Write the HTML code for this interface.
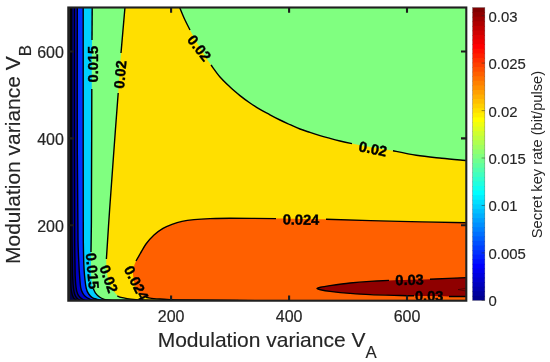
<!DOCTYPE html>
<html><head><meta charset="utf-8"><title>Secret key rate contour</title>
<style>html,body{margin:0;padding:0;background:#fff}body{width:550px;height:362px;overflow:hidden}</style></head>
<body>
<svg width="550" height="362" viewBox="0 0 550 362" style="display:block" font-family="Liberation Sans, Arial, Helvetica, sans-serif">
<rect width="550" height="362" fill="#fff"/>
<defs><clipPath id="ax"><rect x="68.3" y="7.5" width="398.0" height="293.2"/></clipPath></defs>
<g clip-path="url(#ax)">
<rect x="60" y="0" width="420" height="310" fill="#80ff80"/>
<path d="M125.0 7.0 C124.3 14.7 122.1 38.5 121.0 53.0 C119.9 67.5 119.4 77.6 118.2 94.0 C117.0 111.2 114.9 136.7 113.5 156.0 C112.1 175.3 110.8 192.8 109.6 210.0 C108.4 227.2 106.9 249.3 106.4 259.0 C106.2 262.6 106.3 264.7 106.6 268.0 C106.9 271.3 107.2 275.7 108.0 279.0 C108.8 282.3 110.0 285.3 111.5 288.0 C113.0 290.7 115.7 293.8 117.3 295.3 C118.5 296.5 119.4 296.8 121.0 297.3 C122.6 297.9 124.6 298.2 127.0 298.6 C129.5 299.0 132.4 299.3 136.0 299.6 C139.8 300.0 144.4 300.8 150.0 300.8 C205.2 301.1 414.2 301.4 467.0 301.5 L467 160.5 L467.0 160.5 C462.8 160.1 450.2 159.2 441.8 158.3 C433.4 157.4 424.4 156.6 416.3 155.3 C408.2 154.0 400.2 152.0 393.0 150.7 C385.8 149.4 379.8 148.8 373.0 147.6 C366.2 146.4 357.5 144.7 352.0 143.6 C347.2 142.6 343.7 141.9 340.0 141.0 C336.3 140.1 333.3 139.3 330.0 138.4 C326.7 137.5 323.3 136.6 320.0 135.6 C316.7 134.6 313.3 133.5 310.0 132.4 C306.7 131.3 303.3 130.3 300.0 129.0 C296.7 127.7 293.3 126.1 290.0 124.6 C286.7 123.1 283.3 121.6 280.0 120.0 C276.7 118.4 273.3 116.6 270.0 114.8 C266.7 113.0 263.3 111.4 260.0 109.4 C256.7 107.4 253.3 105.3 250.0 103.0 C246.7 100.7 243.3 98.3 240.0 95.6 C236.7 92.9 233.3 90.1 230.0 87.0 C226.7 83.9 223.2 80.7 220.0 77.0 C216.8 73.3 214.4 70.0 211.0 65.0 C207.6 60.0 203.0 52.8 199.5 47.0 C196.0 41.2 192.4 34.5 190.0 30.0 C187.9 26.1 186.8 23.8 185.0 20.0 C183.2 16.2 180.4 9.2 179.5 7.0 Z" fill="#ffdf00"/>
<path d="M467.0 222.8 C455.8 222.6 423.5 222.0 400.0 221.4 C376.5 220.8 342.5 219.6 326.0 219.2 C316.0 218.9 309.3 219.0 301.0 218.9 C292.7 218.8 286.0 218.7 276.0 218.6 C264.2 218.5 241.0 218.2 230.0 218.2 C222.0 218.2 216.0 218.4 210.0 218.6 C204.0 218.8 198.7 219.1 194.0 219.6 C189.3 220.1 185.7 220.6 182.0 221.4 C178.3 222.2 175.2 223.2 172.0 224.4 C168.8 225.6 166.0 226.6 163.0 228.4 C160.0 230.2 156.8 232.4 154.0 235.0 C151.2 237.6 148.3 240.8 146.0 244.0 C143.7 247.2 141.7 251.2 140.0 254.0 C138.4 256.8 137.1 258.7 136.0 261.0 C134.9 263.3 134.0 265.8 133.5 268.0 C133.0 270.2 132.8 271.6 133.0 274.0 C133.2 276.7 133.7 281.0 134.5 284.0 C135.3 287.0 136.6 290.0 138.0 292.0 C139.4 294.0 141.0 295.0 143.0 296.0 C145.0 297.0 147.2 297.6 150.0 298.1 C152.8 298.6 156.0 298.7 160.0 299.0 C164.2 299.3 169.0 299.9 175.0 300.0 C198.3 300.3 251.3 300.8 300.0 301.0 C348.7 301.2 439.2 301.2 467.0 301.2 Z" fill="#ff6000"/>
<path d="M467.0 277.6 C460.8 277.9 439.6 278.8 430.0 279.2 C421.8 279.5 416.4 279.6 409.6 279.8 C402.8 280.0 395.6 280.1 389.0 280.4 C382.4 280.7 376.5 281.0 370.0 281.4 C363.5 281.8 356.7 282.3 350.0 283.0 C343.3 283.7 334.9 284.9 330.0 285.6 C326.2 286.2 322.7 286.8 320.5 287.3 C319.1 287.6 317.0 288.1 317.0 288.5 C317.0 288.9 319.1 289.4 320.5 289.7 C322.7 290.2 326.2 290.9 330.0 291.4 C334.9 292.0 343.3 292.9 350.0 293.4 C356.7 293.9 362.0 294.3 370.0 294.6 C378.3 295.0 390.2 295.2 400.0 295.5 C409.8 295.8 420.8 295.9 429.0 296.1 C437.0 296.3 442.7 296.4 449.0 296.5 C455.3 296.6 464.0 296.5 467.0 296.5 Z" fill="#8f0000"/>
<path d="M60 0 L92.2 7.0 C92.2 12.5 92.1 26.8 92.0 40.0 C91.9 53.2 91.9 67.6 91.8 86.0 C91.7 106.0 91.7 137.3 91.6 160.0 C91.5 182.7 91.5 206.7 91.4 222.0 C91.3 234.0 91.1 244.0 91.0 252.0 C90.9 259.2 90.9 265.3 91.0 270.0 C91.1 274.0 91.1 276.9 91.5 280.0 C91.9 283.1 92.6 286.5 93.3 288.7 C93.9 290.6 94.5 291.8 95.5 293.1 C96.5 294.4 97.6 295.7 99.1 296.7 C100.5 297.7 102.0 298.6 104.2 299.3 C106.4 300.0 108.8 300.6 112.0 300.6 C172.5 300.9 407.8 300.9 467.0 301.0 L467 310 L60 310 Z" fill="#00cfff"/>
<path d="M60 0 L83.2 7.0 C83.2 30.8 83.2 111.2 83.2 150.0 C83.2 186.0 83.2 221.0 83.3 240.0 C83.4 249.6 83.6 258.0 83.8 264.0 C84.0 268.8 84.2 271.9 84.6 276.0 C85.0 280.1 85.6 285.5 86.3 288.5 C86.8 290.8 87.7 292.5 88.7 294.0 C89.7 295.5 90.8 296.7 92.2 297.6 C93.6 298.5 95.2 298.8 97.0 299.3 C98.8 299.8 100.6 300.4 103.0 300.4 C164.7 300.7 406.3 300.9 467.0 301.0 L467 310 L60 310 Z" fill="#0030ff"/>
<path d="M60 0 L77.3 7.0 C77.3 30.8 77.2 111.2 77.3 150.0 C77.5 186.0 77.7 221.0 78.0 240.0 C78.1 249.6 78.6 258.0 78.9 264.0 C79.1 268.8 79.3 272.1 79.6 276.0 C79.9 279.9 80.2 284.8 80.7 287.6 C81.1 289.9 81.9 291.6 82.7 293.1 C83.5 294.6 84.3 295.5 85.4 296.5 C86.5 297.5 88.0 298.3 89.3 298.9 C90.6 299.5 91.4 300.2 93.0 300.2 C155.9 300.6 404.7 300.9 467.0 301.0 L467 310 L60 310 Z" fill="#0000c4"/>
<path d="M60 0 L74.5 7.0 C74.5 30.8 74.4 111.2 74.5 150.0 C74.5 186.0 74.6 221.0 74.7 240.0 C74.7 249.6 74.9 258.0 75.0 264.0 C75.1 268.8 75.0 272.1 75.2 276.0 C75.4 279.9 75.7 284.6 76.1 287.6 C76.4 290.1 76.9 292.2 77.6 293.8 C78.2 295.4 79.2 296.4 80.0 297.3 C80.8 298.2 81.7 298.8 82.7 299.3 C83.7 299.8 84.6 300.5 86.0 300.5 C150.1 300.8 403.5 300.9 467.0 301.0 L467 310 L60 310 Z" fill="#00008f"/>
<path d="M60 0 L71.7 7.0 C71.7 30.8 71.7 111.2 71.7 150.0 C71.7 186.0 71.9 221.0 72.0 240.0 C72.1 249.6 72.3 258.0 72.4 264.0 C72.5 268.8 72.4 272.1 72.6 276.0 C72.8 279.9 73.1 284.6 73.4 287.6 C73.7 290.1 74.0 292.1 74.5 293.8 C75.0 295.5 75.8 296.8 76.5 297.7 C77.1 298.5 77.7 298.8 78.4 299.3 C79.2 299.8 79.9 300.5 81.0 300.5 C145.8 300.8 402.7 300.9 467.0 301.0 L467 310 L60 310 Z" fill="#000078"/>
<path d="M60 0 L70.6 7.0 C70.6 45.8 70.6 197.2 70.6 240.0 C70.6 249.6 70.7 258.0 70.7 264.0 C70.7 268.8 70.8 272.1 70.8 276.0 C70.8 279.9 70.8 284.5 71.0 287.6 C71.2 290.4 71.7 292.9 72.2 294.6 C72.6 296.1 73.3 297.3 73.8 298.1 C74.2 298.7 74.6 298.9 75.3 299.3 C76.0 299.7 76.8 300.6 78.0 300.6 C143.3 300.9 402.2 300.9 467.0 301.0 L467 310 L60 310 Z" fill="#000048"/>
<g fill="none" stroke="#000" stroke-width="1.4" stroke-linejoin="round">
<path d="M70.6 7.0 C70.6 45.8 70.6 197.2 70.6 240.0 C70.6 249.6 70.7 258.0 70.7 264.0 C70.7 268.8 70.8 272.1 70.8 276.0 C70.8 279.9 70.8 284.5 71.0 287.6 C71.2 290.4 71.7 292.9 72.2 294.6 C72.6 296.1 73.3 297.3 73.8 298.1 C74.2 298.7 74.6 298.9 75.3 299.3 C76.0 299.7 76.8 300.6 78.0 300.6 C143.3 300.9 402.2 300.9 467.0 301.0"/>
<path d="M71.7 7.0 C71.7 30.8 71.7 111.2 71.7 150.0 C71.7 186.0 71.9 221.0 72.0 240.0 C72.1 249.6 72.3 258.0 72.4 264.0 C72.5 268.8 72.4 272.1 72.6 276.0 C72.8 279.9 73.1 284.6 73.4 287.6 C73.7 290.1 74.0 292.1 74.5 293.8 C75.0 295.5 75.8 296.8 76.5 297.7 C77.1 298.5 77.7 298.8 78.4 299.3 C79.2 299.8 79.9 300.5 81.0 300.5 C145.8 300.8 402.7 300.9 467.0 301.0"/>
<path d="M74.5 7.0 C74.5 30.8 74.4 111.2 74.5 150.0 C74.5 186.0 74.6 221.0 74.7 240.0 C74.7 249.6 74.9 258.0 75.0 264.0 C75.1 268.8 75.0 272.1 75.2 276.0 C75.4 279.9 75.7 284.6 76.1 287.6 C76.4 290.1 76.9 292.2 77.6 293.8 C78.2 295.4 79.2 296.4 80.0 297.3 C80.8 298.2 81.7 298.8 82.7 299.3 C83.7 299.8 84.6 300.5 86.0 300.5 C150.1 300.8 403.5 300.9 467.0 301.0"/>
<path d="M77.3 7.0 C77.3 30.8 77.2 111.2 77.3 150.0 C77.5 186.0 77.7 221.0 78.0 240.0 C78.1 249.6 78.6 258.0 78.9 264.0 C79.1 268.8 79.3 272.1 79.6 276.0 C79.9 279.9 80.2 284.8 80.7 287.6 C81.1 289.9 81.9 291.6 82.7 293.1 C83.5 294.6 84.3 295.5 85.4 296.5 C86.5 297.5 88.0 298.3 89.3 298.9 C90.6 299.5 91.4 300.2 93.0 300.2 C155.9 300.6 404.7 300.9 467.0 301.0"/>
<path d="M83.2 7.0 C83.2 30.8 83.2 111.2 83.2 150.0 C83.2 186.0 83.2 221.0 83.3 240.0 C83.4 249.6 83.6 258.0 83.8 264.0 C84.0 268.8 84.2 271.9 84.6 276.0 C85.0 280.1 85.6 285.5 86.3 288.5 C86.8 290.8 87.7 292.5 88.7 294.0 C89.7 295.5 90.8 296.7 92.2 297.6 C93.6 298.5 95.2 298.8 97.0 299.3 C98.8 299.8 100.6 300.4 103.0 300.4 C164.7 300.7 406.3 300.9 467.0 301.0"/>
<path d="M92.2 7.0 C92.2 12.5 92.0 34.5 92.0 40.0"/>
<path d="M91.8 89.0 C91.8 100.8 91.7 137.8 91.6 160.0 C91.5 182.2 91.5 206.7 91.4 222.0 C91.3 234.0 91.1 247.0 91.0 252.0"/>
<path d="M93.3 288.7 C93.7 289.4 94.5 291.8 95.5 293.1 C96.5 294.4 97.6 295.7 99.1 296.7 C100.5 297.7 102.0 298.6 104.2 299.3 C106.4 300.0 110.7 300.4 112.0 300.6"/>
<path d="M125.0 7.0 C124.3 14.7 121.7 45.3 121.0 53.0"/>
<path d="M118.2 93.0 C117.4 103.5 114.9 136.5 113.5 156.0 C112.1 175.5 110.8 192.8 109.6 210.0 C108.4 227.2 106.9 250.8 106.4 259.0"/>
<path d="M117.3 296.0 C117.9 296.2 119.5 297.0 121.0 297.4 C122.6 297.8 124.6 298.2 127.0 298.6 C129.5 299.0 132.4 299.3 136.0 299.6 C139.8 300.0 147.7 300.6 150.0 300.8"/>
<path d="M179.5 7.0 C180.4 9.2 183.2 16.2 185.0 20.0 C186.8 23.8 189.2 28.3 190.0 30.0"/>
<path d="M211.0 65.0 C212.5 67.0 216.8 73.3 220.0 77.0 C223.2 80.7 226.7 83.9 230.0 87.0 C233.3 90.1 236.7 92.9 240.0 95.6 C243.3 98.3 246.7 100.7 250.0 103.0 C253.3 105.3 256.7 107.4 260.0 109.4 C263.3 111.4 266.7 113.0 270.0 114.8 C273.3 116.6 276.7 118.4 280.0 120.0 C283.3 121.6 286.7 123.1 290.0 124.6 C293.3 126.1 296.7 127.7 300.0 129.0 C303.3 130.3 306.7 131.3 310.0 132.4 C313.3 133.5 316.7 134.6 320.0 135.6 C323.3 136.6 326.7 137.5 330.0 138.4 C333.3 139.3 336.3 140.1 340.0 141.0 C343.7 141.9 350.0 143.2 352.0 143.6"/>
<path d="M393.0 150.7 C396.9 151.5 408.2 154.0 416.3 155.3 C424.4 156.6 433.4 157.4 441.8 158.3 C450.2 159.2 462.8 160.1 467.0 160.5"/>
<path d="M467.0 222.8 C455.8 222.6 423.5 222.0 400.0 221.4 C376.5 220.8 338.3 219.6 326.0 219.2"/>
<path d="M276.0 218.6 C268.3 218.5 241.0 218.2 230.0 218.2 C222.0 218.2 216.0 218.4 210.0 218.6 C204.0 218.8 198.7 219.1 194.0 219.6 C189.3 220.1 185.7 220.6 182.0 221.4 C178.3 222.2 175.2 223.2 172.0 224.4 C168.8 225.6 166.0 226.6 163.0 228.4 C160.0 230.2 156.8 232.4 154.0 235.0 C151.2 237.6 148.3 240.8 146.0 244.0 C143.7 247.2 141.7 251.2 140.0 254.0 C138.4 256.8 136.7 259.8 136.0 261.0"/>
<path d="M146.0 297.2 C146.7 297.4 148.4 297.9 150.0 298.1 C152.3 298.4 156.0 298.7 160.0 299.0 C164.2 299.3 169.0 299.9 175.0 300.0 C198.3 300.3 279.2 300.8 300.0 301.0"/>
<path d="M467.0 277.6 C460.8 277.9 436.2 278.9 430.0 279.2"/>
<path d="M389.0 280.4 C385.8 280.6 376.5 281.0 370.0 281.4 C363.5 281.8 356.7 282.3 350.0 283.0 C343.3 283.7 334.9 284.9 330.0 285.6 C326.2 286.2 322.7 286.8 320.5 287.3 C319.1 287.6 317.0 288.1 317.0 288.5 C317.0 288.9 319.1 289.4 320.5 289.7 C322.7 290.2 326.2 290.9 330.0 291.4 C334.9 292.0 343.3 292.9 350.0 293.4 C356.7 293.9 362.0 294.3 370.0 294.6 C378.3 295.0 392.7 295.3 400.0 295.5 C405.6 295.7 411.7 295.8 414.0 295.8"/>
<path d="M449.0 296.5 C452.0 296.5 464.0 296.5 467.0 296.5"/>
<path d="M467 288 L458 289.6 L467 291.2" stroke-width="0.6" stroke-opacity="0.6"/>
</g>
<g font-weight="bold" font-size="14.6px" text-anchor="middle" fill="#000" stroke="#000" stroke-width="0.4">
<text transform="translate(92.9 64.2) rotate(-90.0)" x="0" y="5.25">0.015</text>
<text transform="translate(120.0 74.5) rotate(-85.0)" x="0" y="5.25">0.02</text>
<text transform="translate(92.6 271.0) rotate(85.0)" x="0" y="5.25">0.015</text>
<text transform="translate(108.9 278.9) rotate(71.0)" x="0" y="5.25">0.02</text>
<text transform="translate(136.5 283.0) rotate(63.0)" x="0" y="5.25">0.024</text>
<text transform="translate(199.5 48.0) rotate(52.0)" x="0" y="5.25">0.02</text>
<text transform="translate(373.0 148.7) rotate(12.0)" x="0" y="5.25">0.02</text>
<text transform="translate(301.0 219.4) rotate(1.0)" x="0" y="5.25">0.024</text>
<text transform="translate(409.6 279.6) rotate(-2.0)" x="0" y="5.25">0.03</text>
<text transform="translate(429.2 296.0) rotate(0.0)" x="0" y="5.25">0.03</text>
</g>
</g>
<rect x="68.3" y="7.5" width="398.0" height="293.2" fill="none" stroke="#202020" stroke-width="2.1"/>
<path d="M69.5 7.5 V300.7" stroke="#202020" stroke-width="1.1"/>
<g stroke="#1c1c1c" stroke-width="2.1">
<path d="M171.1 300.7 v-5.3 M171.1 7.5 v5.3"/>
<path d="M289.1 300.7 v-5.3 M289.1 7.5 v5.3"/>
<path d="M407.0 300.7 v-5.3 M407.0 7.5 v5.3"/>
<path d="M68.3 51.5 h5.3 M466.3 51.5 h-5.3"/>
<path d="M68.3 138.4 h5.3 M466.3 138.4 h-5.3"/>
<path d="M68.3 225.3 h5.3 M466.3 225.3 h-5.3"/>
</g>
<g font-size="16px" fill="#262626" stroke="#262626" stroke-width="0.2">
<text x="171.1" y="322.1" text-anchor="middle">200</text>
<text x="289.1" y="322.1" text-anchor="middle">400</text>
<text x="407.0" y="322.1" text-anchor="middle">600</text>
<text x="63.9" y="57.9" text-anchor="end">600</text>
<text x="63.9" y="144.8" text-anchor="end">400</text>
<text x="63.9" y="231.7" text-anchor="end">200</text>
</g>
<text x="157.7" y="347.1" font-size="21px" fill="#262626" stroke="#262626" stroke-width="0.15">Modulation variance V<tspan font-size="16.8px" dy="10.5">A</tspan></text>
<text transform="translate(20.4 264.0) rotate(-90)" font-size="21px" fill="#262626" stroke="#262626" stroke-width="0.15">Modulation variance V<tspan font-size="16.8px" dy="10.5">B</tspan></text>
<rect x="472.6" y="7.60" width="12.2" height="5.37" fill="#800000"/>
<rect x="472.6" y="12.18" width="12.2" height="5.37" fill="#8f0000"/>
<rect x="472.6" y="16.75" width="12.2" height="5.37" fill="#9f0000"/>
<rect x="472.6" y="21.33" width="12.2" height="5.37" fill="#af0000"/>
<rect x="472.6" y="25.90" width="12.2" height="5.37" fill="#bf0000"/>
<rect x="472.6" y="30.48" width="12.2" height="5.37" fill="#cf0000"/>
<rect x="472.6" y="35.05" width="12.2" height="5.37" fill="#df0000"/>
<rect x="472.6" y="39.62" width="12.2" height="5.37" fill="#ef0000"/>
<rect x="472.6" y="44.20" width="12.2" height="5.37" fill="#ff0000"/>
<rect x="472.6" y="48.78" width="12.2" height="5.37" fill="#ff1000"/>
<rect x="472.6" y="53.35" width="12.2" height="5.37" fill="#ff2000"/>
<rect x="472.6" y="57.93" width="12.2" height="5.37" fill="#ff3000"/>
<rect x="472.6" y="62.50" width="12.2" height="5.37" fill="#ff4000"/>
<rect x="472.6" y="67.08" width="12.2" height="5.37" fill="#ff5000"/>
<rect x="472.6" y="71.65" width="12.2" height="5.37" fill="#ff6000"/>
<rect x="472.6" y="76.23" width="12.2" height="5.37" fill="#ff7000"/>
<rect x="472.6" y="80.80" width="12.2" height="5.37" fill="#ff8000"/>
<rect x="472.6" y="85.38" width="12.2" height="5.37" fill="#ff8f00"/>
<rect x="472.6" y="89.95" width="12.2" height="5.37" fill="#ff9f00"/>
<rect x="472.6" y="94.53" width="12.2" height="5.37" fill="#ffaf00"/>
<rect x="472.6" y="99.10" width="12.2" height="5.37" fill="#ffbf00"/>
<rect x="472.6" y="103.68" width="12.2" height="5.37" fill="#ffcf00"/>
<rect x="472.6" y="108.25" width="12.2" height="5.37" fill="#ffdf00"/>
<rect x="472.6" y="112.83" width="12.2" height="5.37" fill="#ffef00"/>
<rect x="472.6" y="117.40" width="12.2" height="5.37" fill="#ffff00"/>
<rect x="472.6" y="121.97" width="12.2" height="5.37" fill="#efff10"/>
<rect x="472.6" y="126.55" width="12.2" height="5.37" fill="#dfff20"/>
<rect x="472.6" y="131.12" width="12.2" height="5.37" fill="#cfff30"/>
<rect x="472.6" y="135.70" width="12.2" height="5.37" fill="#bfff40"/>
<rect x="472.6" y="140.28" width="12.2" height="5.37" fill="#afff50"/>
<rect x="472.6" y="144.85" width="12.2" height="5.37" fill="#9fff60"/>
<rect x="472.6" y="149.43" width="12.2" height="5.37" fill="#8fff70"/>
<rect x="472.6" y="154.00" width="12.2" height="5.37" fill="#80ff80"/>
<rect x="472.6" y="158.57" width="12.2" height="5.37" fill="#70ff8f"/>
<rect x="472.6" y="163.15" width="12.2" height="5.37" fill="#60ff9f"/>
<rect x="472.6" y="167.72" width="12.2" height="5.37" fill="#50ffaf"/>
<rect x="472.6" y="172.30" width="12.2" height="5.37" fill="#40ffbf"/>
<rect x="472.6" y="176.88" width="12.2" height="5.37" fill="#30ffcf"/>
<rect x="472.6" y="181.45" width="12.2" height="5.37" fill="#20ffdf"/>
<rect x="472.6" y="186.02" width="12.2" height="5.37" fill="#10ffef"/>
<rect x="472.6" y="190.60" width="12.2" height="5.37" fill="#00ffff"/>
<rect x="472.6" y="195.18" width="12.2" height="5.37" fill="#00efff"/>
<rect x="472.6" y="199.75" width="12.2" height="5.37" fill="#00dfff"/>
<rect x="472.6" y="204.32" width="12.2" height="5.37" fill="#00cfff"/>
<rect x="472.6" y="208.90" width="12.2" height="5.37" fill="#00bfff"/>
<rect x="472.6" y="213.47" width="12.2" height="5.37" fill="#00afff"/>
<rect x="472.6" y="218.05" width="12.2" height="5.37" fill="#009fff"/>
<rect x="472.6" y="222.62" width="12.2" height="5.37" fill="#008fff"/>
<rect x="472.6" y="227.20" width="12.2" height="5.37" fill="#0080ff"/>
<rect x="472.6" y="231.77" width="12.2" height="5.37" fill="#0070ff"/>
<rect x="472.6" y="236.35" width="12.2" height="5.37" fill="#0060ff"/>
<rect x="472.6" y="240.92" width="12.2" height="5.37" fill="#0050ff"/>
<rect x="472.6" y="245.50" width="12.2" height="5.37" fill="#0040ff"/>
<rect x="472.6" y="250.07" width="12.2" height="5.37" fill="#0030ff"/>
<rect x="472.6" y="254.65" width="12.2" height="5.37" fill="#0020ff"/>
<rect x="472.6" y="259.22" width="12.2" height="5.37" fill="#0010ff"/>
<rect x="472.6" y="263.80" width="12.2" height="5.37" fill="#0000ff"/>
<rect x="472.6" y="268.38" width="12.2" height="5.37" fill="#0000ef"/>
<rect x="472.6" y="272.95" width="12.2" height="5.37" fill="#0000df"/>
<rect x="472.6" y="277.52" width="12.2" height="5.37" fill="#0000cf"/>
<rect x="472.6" y="282.10" width="12.2" height="5.37" fill="#0000bf"/>
<rect x="472.6" y="286.67" width="12.2" height="5.37" fill="#0000af"/>
<rect x="472.6" y="291.25" width="12.2" height="5.37" fill="#00009f"/>
<rect x="472.6" y="295.82" width="12.2" height="4.57" fill="#00008f"/>
<rect x="472.6" y="7.6" width="12.2" height="292.8" fill="none" stroke="#262626" stroke-opacity="0.45" stroke-width="0.6"/>
<g font-size="14.9px" fill="#262626" stroke="#262626" stroke-width="0.15">
<path d="M484.8 300.4 h-3.2" stroke="#262626" stroke-opacity="0.6" stroke-width="0.8"/>
<text x="488.5" y="306.3">0</text>
<path d="M484.8 252.9 h-3.2" stroke="#262626" stroke-opacity="0.6" stroke-width="0.8"/>
<text x="488.5" y="258.8">0.005</text>
<path d="M484.8 205.5 h-3.2" stroke="#262626" stroke-opacity="0.6" stroke-width="0.8"/>
<text x="488.5" y="211.4">0.01</text>
<path d="M484.8 158.0 h-3.2" stroke="#262626" stroke-opacity="0.6" stroke-width="0.8"/>
<text x="488.5" y="163.9">0.015</text>
<path d="M484.8 110.6 h-3.2" stroke="#262626" stroke-opacity="0.6" stroke-width="0.8"/>
<text x="488.5" y="116.5">0.02</text>
<path d="M484.8 63.1 h-3.2" stroke="#262626" stroke-opacity="0.6" stroke-width="0.8"/>
<text x="488.5" y="69.0">0.025</text>
<path d="M484.8 15.7 h-3.2" stroke="#262626" stroke-opacity="0.6" stroke-width="0.8"/>
<text x="488.5" y="21.6">0.03</text>
</g>
<text transform="translate(542.1 154.5) rotate(-90)" font-size="14.7px" fill="#262626" text-anchor="middle">Secret key rate (bit/pulse)</text>
</svg>
</body></html>
